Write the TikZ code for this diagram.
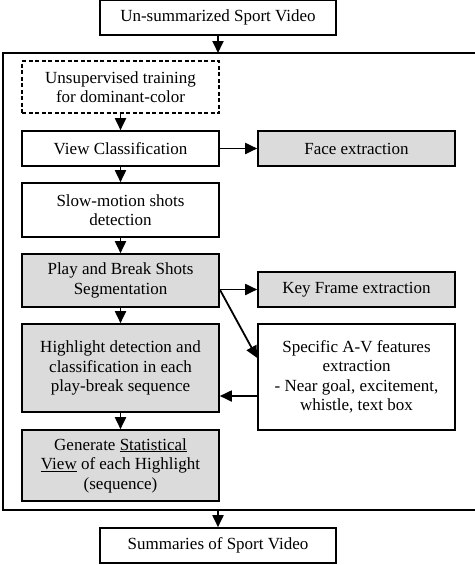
\documentclass[tikz,border=0pt]{standalone}
\usepackage{fontspec}
\setmainfont{Liberation Serif}
\usetikzlibrary{arrows.meta}
\begin{document}
\begin{tikzpicture}[x=1pt,y=-1pt,
  box/.style={draw, line width=1.6pt, align=center, inner sep=0pt, font=\fontsize{17}{19.5}\selectfont},
  grey/.style={box, fill=gray!28},
  arr/.style={-{Triangle[length=12pt,width=11pt]}, line width=1.8pt}]
\useasboundingbox (0,0) rectangle (474,565);
\node[box, minimum width=236pt, minimum height=35pt] (src) at (218,17.5) {Un-summarized Sport Video};
\node[draw, line width=1.6pt, minimum width=474pt, minimum height=457pt, inner sep=0pt] (frame) at (240,281.5) {};
\node[box, dash pattern=on 4pt off 2.5pt, minimum width=197pt, minimum height=52pt] (train) at (120.5,87) {Unsupervised training\\for dominant-color};
\node[box, minimum width=197pt, minimum height=35pt] (view) at (120.5,148.5) {View Classification};
\node[grey, minimum width=197pt, minimum height=35pt] (face) at (356.5,148.5) {Face extraction};
\node[box, minimum width=197pt, minimum height=54pt] (slow) at (120.5,210) {Slow-motion shots\\detection};
\node[grey, minimum width=197pt, minimum height=53pt] (play) at (120.5,280.5) {Play and Break Shots\\Segmentation};
\node[grey, minimum width=197pt, minimum height=35pt] (key) at (356.5,289.5) {Key Frame extraction};
\node[grey, minimum width=197pt, minimum height=88pt] (high) at (120.5,368) {Highlight detection and\\classification in each\\play-break sequence};
\node[box, minimum width=197pt, minimum height=106pt] (spec) at (356.5,377) {Specific A-V features\\extraction\\- Near goal, excitement,\\whistle, text box};
\node[grey, minimum width=197pt, minimum height=71pt] (gen) at (120.5,465.5) {Generate \underline{Statistical}\\\underline{View} of each Highlight\\(sequence)};
\node[box, minimum width=236pt, minimum height=35pt] (sum) at (218,545.5) {Summaries of Sport Video};
\coordinate (ftop) at (218,53);
\coordinate (fbot) at (218,510);
\draw[arr] (src.south) -- (ftop);
\draw[arr] (fbot) -- (sum.north);
\draw[arr] (train.south) -- (view.north);
\draw[arr] (view.east) -- (face.west);
\draw[arr] (view.south) -- (slow.north);
\draw[arr] (slow.south) -- (play.north);
\draw[arr] (play.south) -- (high.north);
\draw[arr] (high.south) -- (gen.north);
\draw[arr] (play.east |- key.west) -- (key.west);
\draw[arr] (play.east |- key.west) -- (spec.west |- 0,358);
\draw[arr] (spec.west |- 0,396) -- (high.east |- 0,396);
\end{tikzpicture}
\end{document}
